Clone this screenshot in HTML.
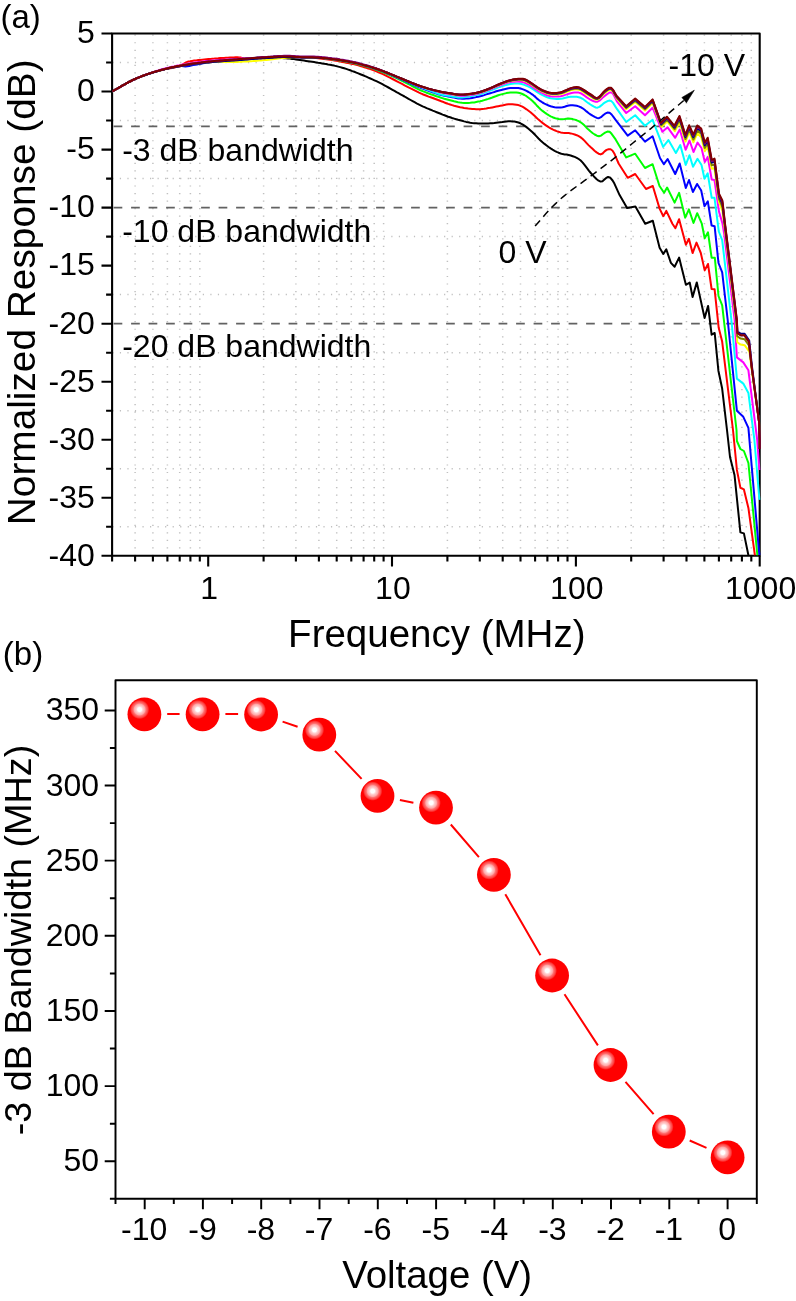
<!DOCTYPE html>
<html lang="en"><head><meta charset="utf-8"><title>Frequency response and bandwidth</title>
<style>html,body{margin:0;padding:0;background:#fff}svg{display:block}text{font-family:"Liberation Sans",Arial,Helvetica,sans-serif;fill:#000}.t{font-size:32px}.ttl{font-size:38.5px}.ax{stroke:#000;stroke-width:2.1;fill:none;stroke-linecap:butt;stroke-linejoin:round}.g{stroke:#c0c0c0;stroke-width:1.5;stroke-dasharray:1.2 6.34;fill:none}.axb{stroke-width:1.95}.d{stroke:#626262;stroke-width:1.75;stroke-dasharray:8.7 8.8;fill:none}.c{fill:none;stroke-width:2;stroke-linejoin:round;stroke-linecap:butt}</style></head><body>
<svg width="796" height="1301" viewBox="0 0 796 1301">
<rect width="796" height="1301" fill="#fff"/>
<defs><radialGradient id="ball" cx="0.358" cy="0.358" r="0.285" fx="0.358" fy="0.358"><stop offset="0" stop-color="#ffffff"/><stop offset="0.2" stop-color="#ffffff"/><stop offset="0.34" stop-color="#ffd2d2"/><stop offset="0.56" stop-color="#ffa8a8"/><stop offset="0.66" stop-color="#ff7474"/><stop offset="0.86" stop-color="#ff4040"/><stop offset="1" stop-color="#ff0000"/></radialGradient>
<clipPath id="clipA"><rect x="112.1" y="33.5" width="648.7" height="522.3"/></clipPath></defs>
<g id="panel-a">
<path class="g" d="M135.1,34.6 V555.8 M152.9,34.6 V555.8 M167.4,34.6 V555.8 M179.7,34.6 V555.8 M190.4,34.6 V555.8 M199.8,34.6 V555.8 M263.6,34.6 V555.8 M295.9,34.6 V555.8 M318.9,34.6 V555.8 M336.7,34.6 V555.8 M351.3,34.6 V555.8 M363.6,34.6 V555.8 M374.2,34.6 V555.8 M383.6,34.6 V555.8 M447.4,34.6 V555.8 M479.8,34.6 V555.8 M502.7,34.6 V555.8 M520.5,34.6 V555.8 M535.1,34.6 V555.8 M547.4,34.6 V555.8 M558.1,34.6 V555.8 M567.5,34.6 V555.8 M631.2,34.6 V555.8 M663.6,34.6 V555.8 M686.5,34.6 V555.8 M704.4,34.6 V555.8 M718.9,34.6 V555.8 M731.2,34.6 V555.8 M741.9,34.6 V555.8 M751.3,34.6 V555.8 M112.3,62.5 H759.7 M112.3,120.5 H759.7 M112.3,178.6 H759.7 M112.3,236.6 H759.7 M112.3,294.6 H759.7 M112.3,352.7 H759.7 M112.3,410.7 H759.7 M112.3,468.8 H759.7 M112.3,526.8 H759.7"/>
<path class="d" d="M113.6,126.4 H759.7"/>
<path class="d" d="M113.6,207.6 H759.7"/>
<path class="d" d="M113.6,323.7 H759.7"/>
<path class="ax" d="M112.1,33.5 H759.7 V555.8 H112.1 Z"/>
<g clip-path="url(#clipA)">
<polyline class="c" stroke="#000000" points="112.4,91.3 114.5,90.2 116.5,89.0 118.6,87.8 120.7,86.6 122.7,85.4 124.8,84.3 126.8,83.1 128.9,82.0 131.0,81.0 133.0,79.9 135.1,79.0 137.0,78.2 139.0,77.4 140.9,76.6 142.9,75.8 144.8,75.1 146.7,74.4 148.7,73.8 150.6,73.1 152.5,72.5 154.5,71.9 156.4,71.3 158.4,70.8 160.3,70.2 162.2,69.7 164.2,69.2 166.1,68.7 168.0,68.2 170.0,67.7 171.9,67.3 173.8,66.9 175.7,66.5 177.7,66.1 179.6,65.8 181.5,65.4 183.5,65.0 185.4,64.7 187.3,64.4 189.3,64.1 191.2,63.8 193.1,63.5 195.1,63.2 197.0,62.9 198.9,62.7 200.8,62.5 202.8,62.2 204.7,62.0 206.6,61.8 208.6,61.6 210.5,61.4 212.4,61.2 214.4,61.0 216.3,60.9 218.2,60.7 220.2,60.5 222.1,60.4 224.0,60.3 225.9,60.1 227.9,60.0 229.8,59.9 231.7,59.8 233.7,59.6 235.6,59.5 237.5,59.4 239.5,59.2 241.4,59.1 243.4,58.9 245.3,58.8 247.2,58.7 249.2,58.5 251.1,58.4 253.0,58.3 255.0,58.2 256.9,58.1 258.9,58.1 260.8,58.0 262.7,58.0 264.7,57.9 266.6,57.9 268.5,57.9 270.5,57.9 272.4,57.9 274.3,57.9 276.2,58.0 278.2,58.0 280.1,58.1 282.0,58.1 284.0,58.2 285.9,58.3 287.9,58.4 289.9,58.6 291.9,58.9 294.0,59.1 296.0,59.4 298.0,59.7 300.0,60.0 302.0,60.3 304.0,60.6 306.0,60.9 308.0,61.2 310.1,61.5 312.1,61.8 314.1,62.1 316.1,62.4 318.1,62.8 320.1,63.1 322.1,63.4 324.1,63.8 326.1,64.1 328.1,64.5 330.1,64.8 332.2,65.2 334.2,65.6 336.2,66.1 338.2,66.6 340.2,67.1 342.2,67.7 344.2,68.3 346.2,68.9 348.2,69.6 350.2,70.3 352.3,71.1 354.3,71.8 356.3,72.6 358.3,73.4 360.3,74.2 362.3,75.0 364.3,75.8 366.3,76.7 368.3,77.6 370.4,78.5 372.4,79.4 374.4,80.3 376.4,81.2 378.4,82.2 380.4,83.2 382.4,84.2 384.4,85.3 386.4,86.4 388.4,87.5 390.4,88.6 392.5,89.8 394.5,90.9 396.5,92.1 398.5,93.2 400.5,94.3 402.5,95.4 404.5,96.5 406.5,97.7 408.5,98.8 410.6,100.0 412.6,101.1 414.6,102.2 416.6,103.3 418.6,104.3 420.6,105.3 422.6,106.3 424.6,107.2 426.6,108.1 428.6,108.9 430.6,109.7 432.7,110.6 434.7,111.4 436.7,112.2 438.7,113.0 440.7,113.8 442.6,114.6 444.5,115.3 446.3,116.0 448.2,116.7 450.1,117.3 452.1,118.0 454.1,118.6 456.1,119.2 458.1,119.8 460.1,120.3 462.1,120.8 464.1,121.4 466.2,121.9 468.2,122.3 470.2,122.7 472.2,123.0 474.2,123.2 476.2,123.3 478.2,123.4 480.2,123.5 482.2,123.5 484.2,123.5 486.3,123.5 488.3,123.4 490.3,123.3 492.3,123.2 494.3,123.0 496.3,122.7 498.3,122.5 500.3,122.3 502.3,122.1 504.3,121.8 506.4,121.5 508.4,121.3 510.4,121.3 512.4,121.4 514.4,121.6 516.4,122.0 518.4,122.5 520.4,123.3 522.4,124.3 524.4,125.6 526.5,127.1 528.5,128.7 530.5,130.4 532.5,132.2 534.5,134.3 536.5,136.4 538.5,138.5 540.5,140.4 542.5,142.2 544.5,143.9 546.6,145.5 548.6,147.0 550.6,148.4 552.6,149.7 554.6,150.8 556.6,151.8 558.6,152.7 560.6,153.5 562.6,154.1 564.6,154.4 566.7,154.6 568.7,155.0 570.7,155.5 572.7,156.2 574.7,156.9 576.7,157.8 578.7,159.0 580.7,160.5 582.7,162.6 584.7,165.1 586.8,167.9 588.8,170.6 590.8,173.0 592.8,175.2 594.7,177.3 596.7,179.2 598.6,180.7 600.6,181.6 602.5,181.2 604.4,179.6 606.2,177.9 608.1,177.0 610.4,177.8 612.6,180.5 614.4,183.6 616.1,187.4 617.9,191.3 619.6,195.1 627.1,207.9 635.4,206.4 645.2,223.7 652.8,220.7 659.6,247.8 663.3,253.9 666.3,249.4 670.9,262.9 674.6,266.7 679.1,257.6 685.9,284.8 689.7,282.5 692.6,297.0 696.8,282.4 704.6,318.0 708.1,305.9 711.6,334.7 714.7,333.0 718.4,370.7 722.1,388.2 727.0,430.0 730.0,457.0 734.5,474.9 740.4,532.4 743.9,533.4 748.4,555.3"/>
<polyline class="c" stroke="#ff0000" points="112.4,91.3 114.5,90.2 116.5,89.0 118.6,87.8 120.7,86.6 122.7,85.4 124.8,84.3 126.8,83.1 128.9,82.0 131.0,81.0 133.0,79.9 135.1,79.0 137.0,78.2 139.0,77.4 140.9,76.6 142.9,75.8 144.8,75.1 146.7,74.4 148.7,73.8 150.6,73.1 152.5,72.5 154.5,71.9 156.4,71.3 158.4,70.8 160.3,70.2 162.3,69.7 164.2,69.2 166.2,68.9 168.2,68.5 170.2,68.2 172.1,67.9 174.1,67.5 176.1,67.1 178.0,66.7 180.0,66.2 182.0,65.0 184.0,63.6 186.0,62.4 188.0,61.6 190.0,61.3 192.1,60.9 194.1,60.6 196.2,60.4 198.2,60.1 200.3,59.9 202.3,59.7 204.4,59.5 206.4,59.3 208.5,59.1 210.5,58.9 212.4,58.7 214.4,58.6 216.3,58.4 218.2,58.3 220.2,58.1 222.1,58.0 224.0,57.9 225.9,57.8 227.9,57.7 229.8,57.6 231.7,57.5 233.7,57.4 235.6,57.3 237.4,57.3 239.2,57.4 241.0,57.6 243.5,58.2 246.0,58.6 248.1,58.6 250.2,58.4 252.3,58.3 254.5,58.1 256.6,57.9 258.7,57.7 260.8,57.6 262.7,57.5 264.7,57.4 266.6,57.3 268.5,57.2 270.5,57.1 272.4,57.0 274.3,56.9 276.2,56.8 278.2,56.8 280.1,56.7 282.0,56.7 284.0,56.6 285.9,56.6 287.9,56.6 289.9,56.7 291.9,56.8 294.0,56.9 296.0,57.0 298.0,57.2 300.0,57.3 302.0,57.4 304.0,57.5 306.0,57.6 308.0,57.7 310.1,57.8 312.1,57.9 314.1,58.0 316.1,58.1 318.1,58.3 320.1,58.5 322.1,58.7 324.1,59.0 326.1,59.2 328.1,59.5 330.1,59.8 332.2,60.1 334.2,60.4 336.2,60.8 338.2,61.1 340.2,61.5 342.2,61.9 344.2,62.3 346.2,62.7 348.2,63.1 350.2,63.5 352.3,63.9 354.3,64.4 356.3,64.9 358.3,65.4 360.3,66.0 362.3,66.6 364.3,67.2 366.3,67.8 368.3,68.5 370.4,69.1 372.4,69.8 374.4,70.6 376.4,71.4 378.4,72.2 380.4,73.0 382.4,73.9 384.4,74.8 386.4,75.8 388.4,76.9 390.4,77.9 392.5,79.0 394.5,80.0 396.5,81.1 398.5,82.2 400.5,83.2 402.5,84.2 404.5,85.3 406.5,86.3 408.5,87.4 410.6,88.4 412.6,89.4 414.6,90.4 416.6,91.4 418.6,92.4 420.6,93.3 422.6,94.2 424.6,95.0 426.6,95.8 428.6,96.6 430.6,97.3 432.7,98.0 434.7,98.8 436.7,99.5 438.7,100.2 440.7,101.0 442.6,101.7 444.5,102.5 446.3,103.2 448.2,103.9 450.1,104.5 452.1,105.1 454.1,105.7 456.1,106.2 458.1,106.7 460.1,107.2 462.1,107.6 464.1,108.0 466.2,108.3 468.2,108.6 470.2,108.8 472.2,109.0 474.2,109.1 476.2,109.2 478.2,109.3 480.2,109.2 482.2,109.0 484.2,108.8 486.3,108.5 488.3,108.1 490.3,107.8 492.3,107.4 494.3,107.0 496.3,106.6 498.3,106.2 500.3,105.8 502.3,105.4 504.3,105.0 506.4,104.6 508.4,104.3 510.4,104.2 512.4,104.2 514.4,104.4 516.4,104.7 518.4,105.1 520.4,105.8 522.4,106.7 524.4,107.9 526.5,109.3 528.5,110.8 530.5,112.3 532.5,114.0 534.5,115.8 536.5,117.7 538.5,119.6 540.5,121.3 542.5,122.9 544.5,124.4 546.6,125.8 548.6,127.1 550.6,128.3 552.6,129.4 554.6,130.3 556.6,131.1 558.6,131.8 560.6,132.4 562.6,132.8 564.6,132.9 566.7,132.9 568.7,133.1 570.7,133.4 572.7,133.9 574.7,134.5 576.7,135.2 578.7,136.2 580.7,137.4 582.7,139.0 584.6,140.9 586.6,143.1 588.5,145.1 590.5,147.0 592.5,148.8 594.5,150.7 596.6,152.4 598.6,153.7 600.6,154.4 602.6,153.5 604.6,151.4 606.6,149.9 608.6,149.3 610.6,149.3 612.6,150.7 614.6,154.1 616.6,158.8 618.6,163.5 627.7,177.8 635.2,174.0 646.0,189.0 652.8,186.0 659.6,208.6 663.3,216.2 666.3,210.9 672.4,223.7 675.4,228.2 679.1,219.2 685.9,244.8 688.9,238.8 692.6,253.1 696.5,242.6 700.8,253.0 704.7,270.4 708.0,264.0 711.6,289.0 714.6,289.3 718.7,327.8 722.1,341.2 733.0,430.0 736.9,469.9 740.4,487.9 743.9,489.4 748.4,507.9 754.9,555.3"/>
<polyline class="c" stroke="#00ff00" points="112.4,91.3 114.5,90.2 116.5,89.0 118.6,87.8 120.7,86.6 122.7,85.4 124.8,84.3 126.8,83.1 128.9,82.0 131.0,81.0 133.0,79.9 135.1,79.0 137.0,78.2 139.0,77.4 140.9,76.6 142.9,75.8 144.8,75.1 146.7,74.4 148.7,73.8 150.6,73.1 152.5,72.5 154.5,71.9 156.4,71.3 158.4,70.8 160.3,70.2 162.2,69.7 164.2,69.2 166.1,68.7 168.0,68.2 170.0,67.7 171.9,67.3 173.8,66.9 175.7,66.5 177.7,66.1 179.6,65.8 181.5,65.4 183.5,65.0 185.4,64.7 187.3,64.4 189.3,64.1 191.2,63.8 193.1,63.5 195.1,63.2 197.0,63.0 198.9,62.7 200.8,62.5 202.8,62.2 204.7,62.0 206.6,61.8 208.6,61.6 210.5,61.4 212.4,61.2 214.4,61.0 216.3,60.8 218.2,60.7 220.2,60.5 222.1,60.4 224.0,60.2 225.9,60.1 227.9,60.0 229.8,59.8 231.7,59.7 233.7,59.5 235.6,59.4 237.5,59.3 239.5,59.1 241.4,59.0 243.4,58.8 245.3,58.7 247.2,58.5 249.2,58.4 251.1,58.2 253.0,58.1 255.0,58.0 256.9,57.8 258.9,57.7 260.8,57.6 262.7,57.5 264.7,57.4 266.6,57.2 268.5,57.1 270.5,57.0 272.4,56.9 274.3,56.8 276.2,56.7 278.2,56.6 280.1,56.5 282.0,56.5 284.0,56.4 285.9,56.4 287.9,56.4 289.9,56.5 291.9,56.6 294.0,56.7 296.0,56.9 298.0,57.0 300.0,57.1 302.0,57.2 304.0,57.2 306.0,57.3 308.0,57.3 310.1,57.4 312.1,57.5 314.1,57.5 316.1,57.6 318.1,57.7 320.1,57.9 322.1,58.1 324.1,58.3 326.1,58.5 328.1,58.7 330.1,59.0 332.2,59.3 334.2,59.5 336.2,59.8 338.2,60.2 340.2,60.5 342.2,60.9 344.2,61.2 346.2,61.6 348.2,62.0 350.2,62.4 352.3,62.8 354.3,63.3 356.3,63.8 358.3,64.3 360.3,64.8 362.3,65.3 364.3,65.9 366.3,66.5 368.3,67.1 370.4,67.7 372.4,68.4 374.4,69.0 376.4,69.7 378.4,70.5 380.4,71.2 382.4,72.0 384.4,72.8 386.4,73.6 388.4,74.5 390.4,75.4 392.5,76.3 394.5,77.2 396.5,78.1 398.5,79.0 400.5,80.0 402.5,81.0 404.5,82.0 406.5,83.1 408.5,84.2 410.6,85.2 412.6,86.3 414.6,87.4 416.6,88.4 418.6,89.4 420.6,90.3 422.6,91.1 424.6,91.9 426.5,92.7 428.5,93.4 430.5,94.2 432.5,94.8 434.5,95.5 436.4,96.2 438.4,96.8 440.4,97.5 442.3,98.1 444.3,98.7 446.2,99.2 448.2,99.7 450.1,100.2 452.1,100.7 454.1,101.3 456.1,101.8 458.1,102.3 460.1,102.6 462.1,102.8 464.1,102.9 466.2,103.0 468.2,102.9 470.2,102.8 472.2,102.6 474.2,102.4 476.2,102.0 478.2,101.6 480.2,101.2 482.2,100.7 484.2,100.1 486.3,99.5 488.3,98.9 490.3,98.2 492.3,97.5 494.3,96.7 496.3,96.0 498.3,95.2 500.3,94.6 502.3,94.1 504.3,93.6 506.4,93.1 508.4,92.8 510.4,92.6 512.4,92.5 514.4,92.4 516.4,92.4 518.4,92.7 520.4,93.2 522.4,94.0 524.4,95.0 526.5,96.2 528.5,97.7 530.5,99.2 532.5,101.0 534.5,103.0 536.5,105.2 538.5,107.3 540.5,109.2 542.5,110.9 544.5,112.4 546.6,113.9 548.6,115.2 550.6,116.3 552.6,117.2 554.6,118.0 556.6,118.6 558.6,119.0 560.6,119.3 562.6,119.3 564.6,119.1 566.7,118.8 568.7,118.6 570.7,118.7 572.7,119.1 574.7,119.6 576.7,120.3 578.7,121.2 580.7,122.3 582.6,123.8 584.6,125.6 586.5,127.7 588.5,129.6 590.4,131.3 592.5,133.0 594.7,134.5 596.9,135.7 599.0,136.3 601.0,135.6 603.1,134.0 605.1,132.6 607.4,131.6 609.6,131.8 611.6,133.8 613.6,136.6 615.6,139.4 626.2,157.4 635.2,153.7 645.0,168.0 652.6,164.2 659.5,186.0 664.1,192.8 667.1,187.5 674.6,202.6 679.1,192.8 685.2,217.7 688.9,209.4 693.5,223.0 697.2,213.2 701.8,223.7 704.7,238.3 708.0,232.3 711.6,257.7 714.8,257.7 718.5,296.0 722.2,305.4 736.5,430.0 736.9,441.0 740.4,449.0 743.9,451.0 748.4,463.0 757.4,555.3"/>
<polyline class="c" stroke="#0000ff" points="112.4,91.3 114.5,90.2 116.5,89.0 118.6,87.8 120.7,86.6 122.7,85.4 124.8,84.3 126.8,83.1 128.9,82.0 131.0,81.0 133.0,79.9 135.1,79.0 137.0,78.2 139.0,77.4 140.9,76.6 142.9,75.9 144.8,75.1 146.7,74.5 148.7,73.8 150.6,73.2 152.5,72.5 154.5,71.9 156.4,71.3 158.4,70.8 160.3,70.2 162.3,69.6 164.2,69.1 166.2,68.6 168.2,68.2 170.2,67.8 172.1,67.4 174.1,67.0 176.1,66.6 178.0,66.3 180.0,66.0 181.8,66.0 183.6,66.3 185.4,66.4 187.3,66.2 189.3,65.9 191.2,65.5 193.1,65.1 195.1,64.8 197.0,64.4 198.9,64.0 200.9,63.7 202.8,63.3 204.7,62.9 206.6,62.6 208.6,62.3 210.5,62.0 212.4,61.8 214.4,61.5 216.3,61.3 218.2,61.1 220.2,61.0 222.1,60.8 224.0,60.6 225.9,60.4 227.9,60.3 229.8,60.1 231.7,59.9 233.7,59.8 235.6,59.6 237.5,59.4 239.5,59.3 241.4,59.1 243.4,58.9 245.3,58.8 247.2,58.6 249.2,58.4 251.1,58.3 253.0,58.1 255.0,58.0 256.9,57.9 258.9,57.7 260.8,57.6 262.7,57.5 264.7,57.4 266.6,57.2 268.5,57.1 270.5,57.0 272.4,56.9 274.3,56.8 276.2,56.7 278.2,56.6 280.1,56.5 282.0,56.5 284.0,56.4 285.9,56.4 287.9,56.4 289.9,56.5 291.9,56.6 294.0,56.7 296.0,56.9 298.0,57.0 300.0,57.1 302.0,57.2 304.0,57.2 306.0,57.2 308.0,57.3 310.1,57.3 312.1,57.3 314.1,57.4 316.1,57.5 318.1,57.6 320.1,57.7 322.1,57.9 324.1,58.0 326.1,58.2 328.1,58.4 330.1,58.7 332.2,58.9 334.2,59.2 336.2,59.5 338.2,59.8 340.2,60.1 342.2,60.4 344.2,60.8 346.2,61.2 348.2,61.5 350.2,62.0 352.3,62.4 354.3,62.8 356.3,63.3 358.3,63.8 360.3,64.3 362.3,64.8 364.3,65.4 366.3,66.0 368.3,66.6 370.4,67.2 372.4,67.8 374.4,68.5 376.4,69.2 378.4,69.9 380.4,70.6 382.4,71.4 384.4,72.1 386.4,73.0 388.4,73.8 390.4,74.6 392.5,75.5 394.5,76.4 396.5,77.3 398.5,78.1 400.5,79.0 402.5,79.9 404.5,80.8 406.5,81.7 408.5,82.6 410.6,83.5 412.6,84.4 414.6,85.3 416.6,86.1 418.6,87.0 420.6,87.8 422.6,88.6 424.6,89.3 426.5,90.1 428.5,90.8 430.5,91.5 432.5,92.2 434.5,92.9 436.4,93.5 438.4,94.2 440.4,94.8 442.3,95.3 444.3,95.8 446.2,96.1 448.2,96.4 450.1,96.8 452.1,97.2 454.1,97.6 456.1,98.1 458.1,98.4 460.1,98.6 462.1,98.7 464.1,98.7 466.2,98.6 468.2,98.4 470.2,98.2 472.2,97.9 474.2,97.6 476.2,97.1 478.2,96.7 480.2,96.2 482.2,95.7 484.2,95.1 486.3,94.4 488.3,93.8 490.3,93.2 492.3,92.6 494.3,92.0 496.3,91.3 498.3,90.7 500.3,90.2 502.3,89.7 504.3,89.2 506.4,88.7 508.4,88.3 510.4,88.1 512.4,88.0 514.4,87.9 516.4,87.9 518.4,88.1 520.4,88.5 522.4,89.1 524.4,89.9 526.5,90.9 528.5,92.0 530.5,93.2 532.5,94.6 534.5,96.3 536.5,98.1 538.5,99.7 540.5,101.2 542.5,102.5 544.5,103.6 546.6,104.6 548.6,105.5 550.6,106.2 552.6,106.8 554.6,107.2 556.6,107.5 558.6,107.6 560.6,107.6 562.6,107.3 564.6,106.7 566.7,106.0 568.7,105.5 570.7,105.2 572.7,105.2 574.7,105.4 576.7,105.8 578.7,106.4 580.7,107.2 582.6,108.3 584.6,109.8 586.5,111.4 588.5,113.0 590.4,114.3 592.5,115.7 594.7,116.9 596.9,117.9 599.0,118.2 601.0,117.2 603.1,115.3 605.1,113.7 607.4,112.6 609.6,112.7 611.6,114.5 613.6,117.2 615.6,119.8 627.7,135.6 635.2,130.3 645.0,141.6 652.6,136.3 660.0,158.0 663.9,164.2 667.6,159.0 675.2,174.0 679.7,163.5 685.8,188.0 689.0,180.0 692.9,192.0 697.1,184.0 701.2,190.5 704.5,206.2 707.8,201.3 711.6,225.5 714.6,226.2 718.5,263.0 722.2,272.3 727.7,320.0 736.9,410.8 743.3,416.8 748.4,427.9 758.9,549.8 759.5,555.0"/>
<polyline class="c" stroke="#00ffff" points="112.4,91.3 114.5,90.2 116.5,89.0 118.6,87.8 120.7,86.6 122.7,85.4 124.8,84.3 126.8,83.1 128.9,82.0 131.0,81.0 133.0,79.9 135.1,79.0 137.0,78.2 139.0,77.4 140.9,76.6 142.9,75.8 144.8,75.1 146.7,74.4 148.7,73.8 150.6,73.1 152.5,72.5 154.5,71.9 156.4,71.3 158.4,70.8 160.3,70.2 162.2,69.7 164.2,69.2 166.1,68.7 168.0,68.2 170.0,67.7 171.9,67.3 173.8,66.9 175.7,66.5 177.7,66.1 179.6,65.8 181.5,65.4 183.5,65.0 185.4,64.7 187.3,64.4 189.3,64.1 191.2,63.8 193.1,63.5 195.1,63.2 197.0,63.0 198.9,62.7 200.8,62.5 202.8,62.2 204.7,62.0 206.6,61.8 208.6,61.6 210.5,61.4 212.4,61.2 214.4,61.0 216.3,60.8 218.2,60.7 220.2,60.5 222.1,60.4 224.0,60.2 225.9,60.1 227.9,60.0 229.8,59.8 231.7,59.7 233.7,59.5 235.6,59.4 237.5,59.3 239.5,59.1 241.4,59.0 243.4,58.8 245.3,58.7 247.2,58.5 249.2,58.4 251.1,58.2 253.0,58.1 255.0,58.0 256.9,57.8 258.9,57.7 260.8,57.6 262.7,57.5 264.7,57.4 266.6,57.2 268.5,57.1 270.5,57.0 272.4,56.9 274.3,56.8 276.2,56.7 278.2,56.6 280.1,56.5 282.0,56.5 284.0,56.4 285.9,56.4 287.9,56.4 289.9,56.5 291.9,56.6 294.0,56.7 296.0,56.9 298.0,57.0 300.0,57.1 302.0,57.2 304.0,57.2 306.0,57.2 308.0,57.3 310.1,57.3 312.1,57.3 314.1,57.4 316.1,57.5 318.1,57.6 320.1,57.7 322.1,57.9 324.1,58.0 326.1,58.2 328.1,58.5 330.1,58.7 332.2,58.9 334.2,59.2 336.2,59.5 338.2,59.8 340.2,60.1 342.2,60.4 344.2,60.8 346.2,61.1 348.2,61.5 350.2,61.9 352.3,62.3 354.3,62.7 356.3,63.1 358.3,63.6 360.3,64.1 362.3,64.6 364.3,65.2 366.3,65.7 368.3,66.3 370.4,66.9 372.4,67.6 374.4,68.2 376.4,68.9 378.4,69.6 380.4,70.3 382.4,71.0 384.4,71.8 386.4,72.6 388.4,73.4 390.4,74.3 392.5,75.1 394.5,76.0 396.5,76.8 398.5,77.7 400.5,78.5 402.5,79.3 404.5,80.2 406.5,81.1 408.5,81.9 410.6,82.8 412.6,83.7 414.6,84.5 416.6,85.4 418.6,86.2 420.6,87.0 422.6,87.8 424.6,88.6 426.5,89.3 428.5,90.1 430.5,90.9 432.5,91.6 434.5,92.3 436.4,93.0 438.4,93.7 440.4,94.3 442.3,94.8 444.2,95.2 446.2,95.5 448.1,95.7 450.0,96.0 452.0,96.4 454.0,96.8 456.1,97.1 458.1,97.4 460.1,97.5 462.1,97.4 464.1,97.2 466.2,96.9 468.2,96.6 470.2,96.2 472.2,95.9 474.2,95.5 476.2,95.1 478.2,94.7 480.2,94.2 482.2,93.6 484.2,92.9 486.3,92.1 488.3,91.4 490.3,90.6 492.3,89.8 494.3,89.0 496.3,88.2 498.3,87.4 500.3,86.7 502.3,86.1 504.3,85.5 506.4,84.9 508.4,84.5 510.4,84.1 512.4,83.8 514.4,83.6 516.4,83.4 518.4,83.5 520.4,83.7 522.4,84.2 524.4,84.9 526.5,85.7 528.5,86.7 530.5,87.7 532.5,88.9 534.5,90.2 536.5,91.7 538.5,93.0 540.5,94.2 542.5,95.2 544.5,96.1 546.6,97.0 548.6,97.7 550.6,98.2 552.6,98.6 554.6,98.8 556.6,98.9 558.6,98.9 560.6,98.8 562.6,98.5 564.6,98.0 566.7,97.5 568.7,97.0 570.7,96.8 572.7,96.7 574.7,96.7 576.7,96.8 578.7,97.2 580.7,97.8 582.6,98.8 584.6,100.2 586.5,101.7 588.5,103.2 590.4,104.5 592.2,105.6 594.0,106.7 595.7,107.5 597.5,107.7 599.4,106.9 601.3,105.4 603.2,103.7 605.1,102.4 607.1,101.3 609.1,100.6 611.1,100.9 613.1,102.9 615.1,106.1 617.1,109.2 626.2,122.0 635.2,115.2 645.0,125.8 652.6,119.8 663.1,146.9 668.4,140.1 675.9,152.9 680.3,145.0 685.7,164.9 689.5,155.2 693.0,166.8 697.5,158.8 701.5,165.0 704.5,178.8 707.7,173.3 711.7,197.8 714.5,197.8 718.8,231.5 722.2,240.1 731.4,320.0 736.9,378.6 743.3,383.6 748.4,392.9 754.4,440.0 759.4,499.9"/>
<polyline class="c" stroke="#ff00ff" points="112.4,91.3 114.5,90.2 116.5,89.0 118.6,87.8 120.7,86.6 122.7,85.5 124.8,84.3 126.8,83.2 128.9,82.0 131.0,81.0 133.0,80.0 135.1,79.0 137.0,78.1 139.0,77.3 140.9,76.5 142.9,75.8 144.8,75.0 146.7,74.3 148.7,73.6 150.6,72.9 152.5,72.3 154.5,71.6 156.4,71.0 158.4,70.4 160.3,69.8 162.2,69.3 164.2,68.7 166.1,68.2 168.0,67.7 170.0,67.3 171.9,66.8 173.8,66.4 175.7,65.9 177.7,65.5 179.6,65.2 181.5,64.8 183.5,64.4 185.4,64.1 187.3,63.7 189.3,63.4 191.2,63.1 193.1,62.8 195.1,62.5 197.0,62.3 198.9,62.0 200.8,61.8 202.8,61.6 204.7,61.3 206.6,61.1 208.6,60.9 210.5,60.7 212.4,60.5 214.4,60.4 216.3,60.2 218.2,60.1 220.2,59.9 222.1,59.8 224.0,59.7 225.9,59.6 227.9,59.4 229.8,59.3 231.7,59.2 233.7,59.1 235.6,59.0 237.5,58.9 239.5,58.7 241.4,58.6 243.4,58.5 245.3,58.4 247.2,58.3 249.2,58.2 251.1,58.1 253.0,58.0 255.0,57.9 256.9,57.8 258.9,57.7 260.8,57.6 262.7,57.5 264.7,57.4 266.6,57.3 268.5,57.2 270.5,57.0 272.4,56.9 274.3,56.8 276.2,56.7 278.2,56.6 280.1,56.6 282.0,56.5 284.0,56.4 285.9,56.4 287.9,56.4 289.9,56.5 291.9,56.6 294.0,56.7 296.0,56.9 298.0,57.0 300.0,57.1 302.0,57.2 304.0,57.2 306.0,57.2 308.0,57.3 310.1,57.3 312.1,57.3 314.1,57.4 316.1,57.5 318.1,57.6 320.1,57.7 322.1,57.9 324.1,58.0 326.1,58.2 328.1,58.5 330.1,58.7 332.2,58.9 334.2,59.2 336.2,59.5 338.2,59.8 340.2,60.1 342.2,60.4 344.2,60.8 346.2,61.1 348.2,61.5 350.2,61.9 352.3,62.3 354.3,62.7 356.3,63.1 358.3,63.6 360.3,64.1 362.3,64.6 364.3,65.2 366.3,65.7 368.3,66.3 370.4,66.9 372.4,67.5 374.4,68.2 376.4,68.8 378.4,69.5 380.4,70.2 382.4,70.9 384.4,71.7 386.4,72.5 388.4,73.3 390.4,74.1 392.5,75.0 394.5,75.8 396.5,76.6 398.5,77.5 400.5,78.3 402.5,79.1 404.5,80.0 406.5,80.8 408.5,81.7 410.6,82.5 412.6,83.4 414.6,84.2 416.6,85.0 418.6,85.8 420.6,86.5 422.5,87.2 424.5,87.8 426.4,88.4 428.4,89.0 430.3,89.6 432.2,90.2 434.2,90.7 436.1,91.3 438.1,91.8 440.0,92.3 442.0,92.8 444.0,93.2 446.1,93.5 448.1,93.9 450.1,94.2 452.1,94.6 454.1,95.0 456.1,95.3 458.1,95.6 460.1,95.8 462.1,95.8 464.1,95.7 466.2,95.5 468.2,95.3 470.2,95.0 472.2,94.7 474.2,94.4 476.2,94.0 478.2,93.5 480.2,93.0 482.2,92.4 484.2,91.7 486.3,90.9 488.3,90.1 490.3,89.3 492.3,88.5 494.3,87.6 496.3,86.8 498.3,86.0 500.3,85.2 502.3,84.5 504.3,83.8 506.4,83.1 508.4,82.5 510.4,82.1 512.4,81.8 514.4,81.7 516.4,81.6 518.4,81.6 520.4,81.7 522.9,82.1 525.4,83.0 527.1,83.8 528.8,84.7 530.5,85.7 532.5,87.0 534.5,88.4 536.5,89.7 538.5,91.1 540.5,92.2 542.5,93.2 544.5,94.2 546.6,95.0 548.6,95.7 550.6,96.2 552.6,96.5 554.6,96.6 556.6,96.6 558.6,96.5 560.6,96.2 562.6,95.8 564.6,95.1 566.7,94.4 568.7,93.8 570.7,93.2 572.7,92.8 574.7,92.6 576.7,92.5 578.7,92.6 580.7,93.2 582.6,94.4 584.6,95.7 586.5,97.1 588.5,98.5 590.4,99.6 592.2,100.5 594.0,101.3 595.7,101.8 597.5,101.7 599.4,100.7 601.3,99.0 603.2,97.1 605.1,95.6 607.4,93.9 609.6,92.5 611.9,92.6 613.6,94.7 615.4,98.2 617.1,101.7 626.2,113.0 635.2,106.2 645.0,115.2 652.6,107.7 662.4,131.8 667.6,127.3 675.2,137.8 679.8,129.5 685.6,149.8 689.5,140.5 693.5,152.0 697.5,142.6 701.5,148.0 704.8,162.0 707.7,156.9 711.7,179.5 714.5,180.1 719.0,211.8 722.4,223.1 724.2,234.1 734.6,320.0 736.9,357.4 743.3,362.4 748.4,370.3 757.2,440.0 759.4,470.0"/>
<polyline class="c" stroke="#ffff00" points="112.4,91.3 114.5,90.2 116.5,89.0 118.6,87.8 120.7,86.6 122.7,85.4 124.8,84.3 126.8,83.1 128.9,82.0 131.0,81.0 133.0,79.9 135.1,79.0 137.0,78.2 139.0,77.4 140.9,76.6 142.9,75.8 144.8,75.1 146.7,74.4 148.7,73.8 150.6,73.1 152.5,72.5 154.5,71.9 156.4,71.3 158.4,70.8 160.3,70.2 162.2,69.7 164.2,69.1 166.1,68.7 168.0,68.2 170.0,67.7 171.9,67.3 173.8,66.9 175.7,66.5 177.7,66.1 179.6,65.7 181.5,65.4 183.5,65.0 185.4,64.7 187.3,64.4 189.3,64.1 191.2,63.8 193.1,63.6 195.1,63.3 197.0,63.1 198.9,62.9 200.8,62.7 202.8,62.5 204.7,62.3 206.6,62.2 208.6,62.1 210.5,61.9 212.4,61.9 214.4,61.8 216.3,61.8 218.2,61.8 220.2,61.8 222.1,61.8 224.0,61.9 225.9,61.9 227.9,62.0 229.8,62.0 231.7,62.0 233.7,62.0 235.6,61.9 237.5,61.9 239.5,61.8 241.4,61.7 243.4,61.6 245.3,61.5 247.2,61.4 249.2,61.3 251.1,61.2 253.0,61.1 255.0,60.9 256.9,60.8 258.9,60.6 260.8,60.5 262.7,60.3 264.7,60.1 266.6,59.9 268.5,59.7 270.5,59.5 272.4,59.2 274.3,59.0 276.2,58.8 278.2,58.5 280.1,58.3 282.0,58.1 284.0,57.9 285.9,57.7 287.9,57.6 289.9,57.4 291.9,57.3 294.0,57.2 296.0,57.2 298.0,57.1 300.0,57.1 302.0,57.1 304.0,57.1 306.0,57.1 308.0,57.2 310.1,57.2 312.1,57.3 314.1,57.3 316.1,57.4 318.1,57.6 320.1,57.7 322.1,57.9 324.1,58.0 326.1,58.2 328.1,58.5 330.1,58.7 332.2,58.9 334.2,59.2 336.2,59.5 338.2,59.8 340.2,60.1 342.2,60.4 344.2,60.8 346.2,61.1 348.2,61.5 350.2,61.9 352.3,62.3 354.3,62.7 356.3,63.1 358.3,63.6 360.3,64.1 362.3,64.6 364.3,65.2 366.3,65.7 368.3,66.3 370.4,66.9 372.4,67.5 374.4,68.2 376.4,68.8 378.4,69.5 380.4,70.2 382.4,70.9 384.4,71.7 386.4,72.5 388.4,73.3 390.4,74.1 392.5,74.9 394.5,75.8 396.5,76.6 398.5,77.4 400.5,78.2 402.5,79.1 404.5,79.9 406.5,80.7 408.5,81.6 410.6,82.4 412.6,83.3 414.6,84.1 416.6,84.9 418.6,85.6 420.6,86.3 422.5,87.0 424.5,87.6 426.4,88.2 428.4,88.8 430.3,89.3 432.2,89.9 434.2,90.4 436.1,90.9 438.1,91.4 440.0,91.9 442.0,92.3 444.0,92.7 446.1,93.0 448.1,93.3 450.1,93.7 452.1,94.0 454.1,94.4 456.1,94.7 458.1,95.0 460.1,95.1 462.1,95.1 464.1,95.0 466.2,94.9 468.2,94.6 470.2,94.3 472.2,94.0 474.2,93.7 476.2,93.3 478.2,92.9 480.2,92.3 482.2,91.7 484.2,91.0 486.3,90.2 488.3,89.4 490.3,88.6 492.3,87.8 494.3,86.9 496.3,86.0 498.3,85.2 500.3,84.4 502.3,83.6 504.3,82.8 506.4,82.1 508.4,81.5 510.4,81.0 512.4,80.6 514.4,80.4 516.4,80.2 518.4,80.1 520.4,80.0 522.9,80.3 525.4,81.1 527.1,81.9 528.8,82.9 530.5,83.9 532.5,85.3 534.5,86.6 536.5,88.0 538.5,89.4 540.5,90.5 542.5,91.5 544.5,92.4 546.6,93.2 548.6,93.9 550.6,94.3 552.6,94.6 554.6,94.7 556.6,94.6 558.6,94.3 560.6,94.0 562.6,93.5 564.6,92.7 566.7,91.9 568.7,91.1 570.7,90.4 572.7,89.9 574.7,89.6 576.7,89.5 578.7,89.7 580.7,90.4 582.6,91.5 584.6,92.8 586.5,94.2 588.5,95.5 590.4,96.6 592.2,97.7 594.0,98.8 595.7,99.6 597.5,99.6 599.4,98.5 601.3,96.6 603.2,94.5 605.1,92.7 607.2,91.1 609.3,89.9 611.5,90.0 613.2,91.9 615.0,95.1 616.7,98.3 626.2,109.3 635.2,102.0 645.0,110.6 652.6,103.1 661.6,126.9 667.2,121.5 674.8,131.2 679.6,122.1 685.5,141.6 689.3,132.1 693.4,142.4 697.4,133.2 701.3,137.3 704.8,151.3 707.7,146.3 711.7,168.7 714.5,168.3 719.0,201.8 722.4,210.7 724.8,229.1 735.9,320.0 737.3,342.3 740.6,344.6 744.6,345.2 749.4,351.6 752.8,377.4 759.0,421.4 759.7,440.0 759.7,449.0"/>
<polyline class="c" stroke="#808000" points="112.4,91.3 114.5,90.2 116.5,89.0 118.6,87.8 120.7,86.6 122.7,85.4 124.8,84.3 126.8,83.1 128.9,82.0 131.0,80.9 133.0,79.9 135.1,79.0 137.0,78.2 139.0,77.4 140.9,76.6 142.9,75.9 144.8,75.2 146.7,74.5 148.7,73.8 150.6,73.2 152.5,72.6 154.5,72.0 156.4,71.5 158.4,70.9 160.3,70.4 162.2,69.9 164.2,69.4 166.1,68.9 168.0,68.5 170.0,68.1 171.9,67.7 173.8,67.3 175.7,66.9 177.7,66.6 179.6,66.2 181.5,65.9 183.5,65.6 185.4,65.2 187.3,64.9 189.3,64.6 191.2,64.4 193.1,64.1 195.1,63.9 197.0,63.6 198.9,63.4 200.8,63.2 202.8,63.0 204.7,62.8 206.6,62.6 208.6,62.4 210.5,62.2 212.4,62.0 214.4,61.8 216.3,61.6 218.2,61.5 220.2,61.3 222.1,61.2 224.0,61.0 225.9,60.9 227.9,60.8 229.8,60.6 231.7,60.5 233.7,60.3 235.6,60.2 237.5,60.0 239.5,59.9 241.4,59.7 243.4,59.6 245.3,59.4 247.2,59.2 249.2,59.1 251.1,58.9 253.0,58.8 255.0,58.6 256.9,58.5 258.9,58.3 260.8,58.2 262.7,58.0 264.7,57.9 266.6,57.8 268.5,57.6 270.5,57.5 272.4,57.3 274.3,57.2 276.2,57.1 278.2,57.0 280.1,56.9 282.0,56.8 284.0,56.7 285.9,56.6 287.9,56.6 289.9,56.6 291.9,56.7 294.0,56.8 296.0,56.9 298.0,57.0 300.0,57.1 302.0,57.2 304.0,57.2 306.0,57.2 308.0,57.3 310.1,57.3 312.1,57.3 314.1,57.4 316.1,57.5 318.1,57.6 320.1,57.7 322.1,57.9 324.1,58.0 326.1,58.2 328.1,58.5 330.1,58.7 332.2,58.9 334.2,59.2 336.2,59.5 338.2,59.8 340.2,60.1 342.2,60.4 344.2,60.8 346.2,61.1 348.2,61.5 350.2,61.9 352.3,62.3 354.3,62.7 356.3,63.1 358.3,63.6 360.3,64.1 362.3,64.6 364.3,65.2 366.3,65.7 368.3,66.3 370.4,66.9 372.4,67.5 374.4,68.2 376.4,68.8 378.4,69.5 380.4,70.2 382.4,70.9 384.4,71.7 386.4,72.5 388.4,73.3 390.4,74.1 392.5,74.9 394.5,75.8 396.5,76.6 398.5,77.4 400.5,78.2 402.5,79.0 404.5,79.9 406.5,80.7 408.5,81.6 410.6,82.4 412.6,83.2 414.6,84.0 416.6,84.8 418.6,85.6 420.6,86.3 422.5,86.9 424.5,87.5 426.4,88.1 428.4,88.7 430.3,89.2 432.2,89.8 434.2,90.3 436.1,90.8 438.1,91.2 440.0,91.7 442.0,92.2 444.0,92.5 446.1,92.9 448.1,93.2 450.1,93.5 452.1,93.8 454.1,94.2 456.1,94.5 458.1,94.8 460.1,94.9 462.1,94.9 464.1,94.8 466.2,94.7 468.2,94.4 470.2,94.1 472.2,93.8 474.2,93.5 476.2,93.1 478.2,92.7 480.2,92.1 482.2,91.5 484.2,90.8 486.3,90.0 488.3,89.2 490.3,88.4 492.3,87.6 494.3,86.7 496.3,85.8 498.3,84.9 500.3,84.1 502.3,83.3 504.3,82.6 506.4,81.8 508.4,81.2 510.4,80.7 512.4,80.3 514.4,79.9 516.4,79.7 518.4,79.6 520.4,79.5 522.9,79.8 525.4,80.5 527.1,81.3 528.8,82.3 530.5,83.4 532.5,84.7 534.5,86.1 536.5,87.5 538.5,88.8 540.5,90.0 542.5,91.0 544.5,91.9 546.6,92.7 548.6,93.3 550.6,93.8 552.6,94.0 554.6,94.0 556.6,93.9 558.6,93.7 560.6,93.3 562.6,92.7 564.6,92.0 566.7,91.1 568.7,90.2 570.7,89.5 572.7,89.0 574.7,88.7 576.7,88.6 578.7,88.8 580.7,89.5 582.6,90.6 584.6,91.9 586.5,93.2 588.5,94.5 590.4,95.7 592.2,96.9 594.0,98.1 595.7,98.9 597.5,99.0 599.4,97.8 601.3,95.8 603.2,93.6 605.1,91.9 607.2,90.3 609.2,89.1 611.3,89.1 613.1,91.0 614.8,94.2 616.6,97.3 626.2,108.1 635.2,100.7 645.0,109.2 652.6,101.7 661.3,125.3 667.1,119.7 674.6,129.2 679.6,119.8 685.5,139.1 689.3,129.5 693.4,139.5 697.4,130.3 701.3,134.0 704.8,148.0 707.7,143.1 711.7,165.3 714.5,164.6 719.0,198.8 722.4,206.8 724.9,227.5 736.3,320.0 737.3,336.3 740.6,338.6 744.6,339.2 749.1,345.6 752.0,370.2 759.0,421.4 759.7,440.0 759.7,449.0"/>
<polyline class="c" stroke="#000080" points="112.4,91.3 114.5,90.2 116.5,89.0 118.6,87.8 120.7,86.6 122.7,85.4 124.8,84.3 126.8,83.1 128.9,82.0 131.0,80.9 133.0,79.9 135.1,79.0 137.0,78.2 139.0,77.4 140.9,76.6 142.9,75.9 144.8,75.2 146.7,74.5 148.7,73.8 150.6,73.2 152.5,72.6 154.5,72.0 156.4,71.5 158.4,70.9 160.3,70.4 162.2,69.8 164.2,69.4 166.1,68.9 168.0,68.5 170.0,68.0 171.9,67.6 173.8,67.3 175.7,66.9 177.7,66.5 179.6,66.2 181.5,65.9 183.5,65.5 185.4,65.2 187.3,64.9 189.3,64.6 191.2,64.4 193.1,64.1 195.1,63.8 197.0,63.6 198.9,63.4 200.8,63.2 202.8,63.0 204.7,62.8 206.6,62.6 208.6,62.4 210.5,62.2 212.4,62.0 214.4,61.8 216.3,61.7 218.2,61.5 220.2,61.4 222.1,61.2 224.0,61.1 225.9,61.0 227.9,60.8 229.8,60.7 231.7,60.6 233.7,60.4 235.6,60.3 237.5,60.2 239.5,60.0 241.4,59.9 243.4,59.7 245.3,59.6 247.2,59.4 249.2,59.3 251.1,59.1 253.0,59.0 255.0,58.8 256.9,58.7 258.9,58.6 260.8,58.4 262.7,58.3 264.7,58.2 266.6,58.1 268.5,57.9 270.5,57.8 272.4,57.7 274.3,57.5 276.2,57.4 278.2,57.3 280.1,57.2 282.0,57.1 284.0,57.1 285.9,57.0 287.9,57.0 289.9,57.1 291.9,57.2 294.0,57.3 296.0,57.4 298.0,57.5 300.0,57.6 302.0,57.6 304.0,57.6 306.0,57.6 308.0,57.6 310.1,57.6 312.1,57.6 314.1,57.6 316.1,57.7 318.1,57.7 320.1,57.9 322.1,58.0 324.1,58.2 326.1,58.3 328.1,58.5 330.1,58.7 332.2,59.0 334.2,59.2 336.2,59.5 338.2,59.8 340.2,60.1 342.2,60.4 344.2,60.8 346.2,61.1 348.2,61.5 350.2,61.9 352.3,62.3 354.3,62.7 356.3,63.1 358.3,63.6 360.3,64.1 362.3,64.6 364.3,65.2 366.3,65.7 368.3,66.3 370.4,66.9 372.4,67.5 374.4,68.2 376.4,68.8 378.4,69.5 380.4,70.2 382.4,70.9 384.4,71.7 386.4,72.5 388.4,73.3 390.4,74.1 392.5,74.9 394.5,75.7 396.5,76.6 398.5,77.4 400.5,78.2 402.5,79.0 404.5,79.9 406.5,80.7 408.5,81.5 410.6,82.4 412.6,83.2 414.6,84.0 416.6,84.8 418.6,85.5 420.6,86.2 422.5,86.9 424.5,87.5 426.4,88.1 428.4,88.6 430.3,89.2 432.2,89.7 434.2,90.2 436.1,90.7 438.1,91.1 440.0,91.6 442.0,92.1 444.0,92.4 446.1,92.7 448.1,93.0 450.1,93.3 452.1,93.7 454.1,94.0 456.1,94.4 458.1,94.6 460.1,94.8 462.1,94.8 464.1,94.7 466.2,94.5 468.2,94.2 470.2,94.0 472.2,93.7 474.2,93.3 476.2,92.9 478.2,92.5 480.2,92.0 482.2,91.3 484.2,90.6 486.3,89.9 488.3,89.1 490.3,88.3 492.3,87.4 494.3,86.5 496.3,85.6 498.3,84.7 500.3,83.9 502.3,83.1 504.3,82.3 506.4,81.6 508.4,80.9 510.4,80.4 512.4,80.0 514.4,79.6 516.4,79.4 518.4,79.2 520.4,79.1 522.9,79.3 525.4,80.0 527.1,80.8 528.8,81.8 530.5,82.9 532.5,84.3 534.5,85.7 536.5,87.1 538.5,88.4 540.5,89.5 542.5,90.5 544.5,91.4 546.6,92.2 548.6,92.8 550.6,93.3 552.6,93.5 554.6,93.5 556.6,93.4 558.6,93.1 560.6,92.8 562.6,92.2 564.6,91.3 566.7,90.4 568.7,89.5 570.7,88.8 572.7,88.3 574.7,88.0 576.7,87.9 578.7,88.1 580.7,88.8 582.6,89.9 584.6,91.2 586.5,92.5 588.5,93.8 590.4,95.0 592.2,96.2 594.0,97.4 595.7,98.3 597.5,98.4 599.4,97.3 601.3,95.2 603.2,93.0 605.1,91.1 607.1,89.6 609.2,88.4 611.2,88.5 613.0,90.3 614.7,93.4 616.5,96.5 626.2,107.2 635.2,99.7 645.0,108.1 652.6,100.6 661.1,124.1 667.0,118.2 674.5,127.5 679.5,117.9 685.4,137.0 689.2,127.3 693.3,137.0 697.3,127.9 701.2,131.3 704.8,145.3 707.7,140.4 711.7,162.6 714.5,161.6 719.0,196.2 722.4,203.7 725.1,226.3 736.6,320.0 737.4,331.6 740.6,333.6 744.6,333.8 749.2,340.5 751.9,366.1 759.0,421.4 759.7,440.0 759.7,449.0"/>
<polyline class="c" stroke="#800080" points="112.4,91.3 114.5,90.2 116.5,89.0 118.6,87.8 120.7,86.6 122.7,85.4 124.8,84.3 126.8,83.1 128.9,82.0 131.0,81.0 133.0,79.9 135.1,79.0 137.0,78.2 139.0,77.4 140.9,76.6 142.9,75.8 144.8,75.1 146.7,74.4 148.7,73.8 150.6,73.1 152.5,72.5 154.5,71.9 156.4,71.3 158.4,70.8 160.3,70.2 162.2,69.7 164.2,69.2 166.1,68.7 168.0,68.2 170.0,67.7 171.9,67.3 173.8,66.9 175.7,66.5 177.7,66.1 179.6,65.8 181.5,65.4 183.5,65.0 185.4,64.7 187.3,64.4 189.3,64.1 191.2,63.8 193.1,63.5 195.1,63.2 197.0,63.0 198.9,62.7 200.8,62.5 202.8,62.2 204.7,62.0 206.6,61.8 208.6,61.6 210.5,61.4 212.4,61.2 214.4,61.0 216.3,60.9 218.2,60.7 220.2,60.5 222.1,60.4 224.0,60.3 225.9,60.1 227.9,60.0 229.8,59.8 231.7,59.7 233.7,59.6 235.6,59.4 237.5,59.2 239.5,59.1 241.4,58.9 243.4,58.7 245.3,58.6 247.2,58.4 249.2,58.2 251.1,58.1 253.0,57.9 255.0,57.7 256.9,57.6 258.9,57.4 260.8,57.3 262.7,57.1 264.7,57.0 266.6,56.9 268.5,56.7 270.5,56.6 272.4,56.4 274.3,56.3 276.2,56.2 278.2,56.1 280.1,56.0 282.0,55.9 284.0,55.8 285.9,55.8 287.9,55.8 289.9,55.8 291.9,55.9 294.0,56.0 296.0,56.2 298.0,56.3 300.0,56.4 302.0,56.4 304.0,56.5 306.0,56.5 308.0,56.5 310.1,56.5 312.1,56.6 314.1,56.6 316.1,56.7 318.1,56.8 320.1,56.9 322.1,57.1 324.1,57.2 326.1,57.4 328.1,57.7 330.1,57.9 332.2,58.2 334.2,58.4 336.2,58.7 338.2,59.0 340.2,59.4 342.2,59.7 344.2,60.1 346.2,60.4 348.2,60.8 350.2,61.2 352.3,61.6 354.3,62.1 356.3,62.5 358.3,63.0 360.3,63.5 362.3,64.1 364.3,64.6 366.3,65.2 368.3,65.8 370.4,66.5 372.4,67.1 374.4,67.8 376.4,68.5 378.4,69.2 380.4,69.9 382.4,70.7 384.4,71.4 386.4,72.3 388.4,73.1 390.4,73.9 392.5,74.8 394.5,75.7 396.5,76.5 398.5,77.4 400.5,78.2 402.5,79.0 404.5,79.9 406.5,80.7 408.5,81.5 410.6,82.4 412.6,83.2 414.6,84.0 416.6,84.8 418.6,85.5 420.6,86.2 422.5,86.9 424.5,87.5 426.4,88.0 428.4,88.6 430.3,89.1 432.2,89.6 434.2,90.1 436.1,90.6 438.1,91.1 440.0,91.5 442.0,92.0 444.0,92.3 446.1,92.7 448.1,93.0 450.1,93.3 452.1,93.6 454.1,94.0 456.1,94.3 458.1,94.5 460.1,94.7 462.1,94.7 464.1,94.6 466.2,94.4 468.2,94.1 470.2,93.9 472.2,93.6 474.2,93.2 476.2,92.9 478.2,92.4 480.2,91.9 482.2,91.3 484.2,90.5 486.3,89.8 488.3,89.0 490.3,88.2 492.3,87.3 494.3,86.4 496.3,85.5 498.3,84.6 500.3,83.8 502.3,83.0 504.3,82.2 506.4,81.4 508.4,80.8 510.4,80.2 512.4,79.8 514.4,79.4 516.4,79.2 518.4,79.0 520.4,78.9 522.9,79.0 525.4,79.7 527.1,80.5 528.8,81.6 530.5,82.7 532.5,84.0 534.5,85.4 536.5,86.8 538.5,88.1 540.5,89.3 542.5,90.3 544.5,91.2 546.6,92.0 548.6,92.6 550.6,93.0 552.6,93.2 554.6,93.3 556.6,93.1 558.6,92.8 560.6,92.4 562.6,91.8 564.6,91.0 566.7,90.1 568.7,89.2 570.7,88.4 572.7,87.9 574.7,87.5 576.7,87.4 578.7,87.7 580.7,88.4 582.6,89.5 584.6,90.7 586.5,92.0 588.5,93.3 590.4,94.5 592.2,95.8 594.0,97.1 595.7,98.0 597.5,98.1 599.4,97.0 601.3,94.9 603.2,92.6 605.1,90.7 607.1,89.2 609.1,88.0 611.1,88.1 612.9,89.9 614.7,92.9 616.4,96.0 626.2,106.6 635.2,99.1 645.0,107.4 652.6,99.9 661.0,123.3 666.9,117.3 674.4,126.5 679.5,116.8 685.4,135.8 689.2,126.1 693.3,135.6 697.3,126.5 701.2,129.8 704.8,143.8 707.7,138.9 711.7,161.0 714.5,159.9 719.0,194.8 722.4,201.9 725.1,225.5 736.8,320.0 737.4,332.9 740.6,335.2 744.3,335.2 748.9,341.7 751.6,366.1 759.0,421.4 759.7,440.0 759.7,449.0"/>
<polyline class="c" stroke="#800000" points="112.4,91.3 114.5,90.2 116.5,89.0 118.6,87.8 120.7,86.6 122.7,85.4 124.8,84.3 126.8,83.1 128.9,82.0 131.0,81.0 133.0,79.9 135.1,79.0 137.0,78.2 139.0,77.4 140.9,76.6 142.9,75.8 144.8,75.1 146.7,74.4 148.7,73.8 150.6,73.1 152.5,72.5 154.5,71.9 156.4,71.3 158.4,70.8 160.3,70.2 162.2,69.7 164.2,69.2 166.1,68.7 168.0,68.2 170.0,67.7 171.9,67.3 173.8,66.9 175.7,66.5 177.7,66.1 179.6,65.8 181.5,65.4 183.5,65.0 185.4,64.7 187.3,64.4 189.3,64.1 191.2,63.8 193.1,63.5 195.1,63.2 197.0,63.0 198.9,62.7 200.8,62.5 202.8,62.2 204.7,62.0 206.6,61.8 208.6,61.6 210.5,61.4 212.4,61.2 214.4,61.0 216.3,60.8 218.2,60.7 220.2,60.5 222.1,60.4 224.0,60.2 225.9,60.1 227.9,60.0 229.8,59.8 231.7,59.7 233.7,59.5 235.6,59.4 237.5,59.3 239.5,59.1 241.4,59.0 243.4,58.8 245.3,58.7 247.2,58.5 249.2,58.4 251.1,58.2 253.0,58.1 255.0,58.0 256.9,57.8 258.9,57.7 260.8,57.6 262.7,57.5 264.7,57.4 266.6,57.2 268.5,57.1 270.5,57.0 272.4,56.9 274.3,56.8 276.2,56.7 278.2,56.6 280.1,56.5 282.0,56.5 284.0,56.4 285.9,56.4 287.9,56.4 289.9,56.5 291.9,56.6 294.0,56.7 296.0,56.9 298.0,57.0 300.0,57.1 302.0,57.2 304.0,57.2 306.0,57.2 308.0,57.3 310.1,57.3 312.1,57.3 314.1,57.4 316.1,57.5 318.1,57.6 320.1,57.7 322.1,57.9 324.1,58.0 326.1,58.2 328.1,58.5 330.1,58.7 332.2,58.9 334.2,59.2 336.2,59.5 338.2,59.8 340.2,60.1 342.2,60.4 344.2,60.8 346.2,61.1 348.2,61.5 350.2,61.9 352.3,62.3 354.3,62.7 356.3,63.1 358.3,63.6 360.3,64.1 362.3,64.6 364.3,65.2 366.3,65.7 368.3,66.3 370.4,66.9 372.4,67.5 374.4,68.2 376.4,68.8 378.4,69.5 380.4,70.2 382.4,70.9 384.4,71.7 386.4,72.5 388.4,73.3 390.4,74.1 392.5,74.9 394.5,75.7 396.5,76.6 398.5,77.4 400.5,78.2 402.5,79.0 404.5,79.8 406.5,80.7 408.5,81.5 410.6,82.4 412.6,83.2 414.6,84.0 416.6,84.8 418.6,85.5 420.6,86.2 422.5,86.8 424.5,87.4 426.4,88.0 428.4,88.6 430.3,89.1 432.2,89.6 434.2,90.1 436.1,90.6 438.1,91.0 440.0,91.5 442.0,91.9 444.0,92.3 446.1,92.6 448.1,92.9 450.1,93.2 452.1,93.5 454.1,93.9 456.1,94.2 458.1,94.5 460.1,94.6 462.1,94.6 464.1,94.5 466.2,94.3 468.2,94.1 470.2,93.8 472.2,93.5 474.2,93.2 476.2,92.8 478.2,92.3 480.2,91.8 482.2,91.2 484.2,90.5 486.3,89.7 488.3,88.9 490.3,88.1 492.3,87.3 494.3,86.4 496.3,85.4 498.3,84.5 500.3,83.7 502.3,82.9 504.3,82.1 506.4,81.3 508.4,80.7 510.4,80.1 512.4,79.6 514.4,79.3 516.4,79.0 518.4,78.8 520.4,78.7 522.9,78.8 525.4,79.5 527.1,80.3 528.8,81.4 530.5,82.5 532.5,83.8 534.5,85.2 536.5,86.6 538.5,88.0 540.5,89.1 542.5,90.1 544.5,91.0 546.6,91.8 548.6,92.4 550.6,92.8 552.6,93.0 554.6,93.0 556.6,92.9 558.6,92.6 560.6,92.2 562.6,91.6 564.6,90.7 566.7,89.8 568.7,88.9 570.7,88.1 572.7,87.6 574.7,87.2 576.7,87.1 578.7,87.3 580.7,88.1 582.6,89.2 584.6,90.4 586.5,91.7 588.5,93.0 590.4,94.2 592.2,95.4 594.0,96.8 595.7,97.8 597.5,97.9 599.4,96.7 601.3,94.6 603.2,92.3 605.1,90.4 607.1,88.9 609.1,87.7 611.1,87.8 612.9,89.6 614.6,92.6 616.4,95.6 626.2,106.2 635.2,98.6 645.0,106.9 652.6,99.4 660.9,122.8 666.9,116.7 674.4,125.8 679.5,116.0 685.4,134.9 689.2,125.2 693.3,134.6 697.3,125.5 701.2,128.6 704.8,142.6 707.7,137.7 711.7,159.8 714.5,158.6 719.0,193.7 722.4,200.5 725.2,225.0 736.9,320.0 737.4,332.9 740.6,335.2 744.3,335.2 748.9,341.7 751.6,366.1 759.0,421.4 759.7,440.0 759.7,449.0"/>
</g>
<polyline points="535.1,226.1 537.6,223.2 540.1,220.4 543.0,217.0 546.0,213.6 548.9,210.4 551.8,207.3 554.8,204.4 557.7,201.6 560.6,198.9 563.6,196.4 566.5,194.0 569.8,191.4 573.2,188.9 576.5,186.5 579.2,184.5 581.9,182.6 584.5,180.7 587.2,178.7 590.0,176.6 592.9,174.5 595.7,172.3 598.5,170.2 601.2,168.2 603.9,166.2 606.5,164.2 609.2,162.2 611.9,160.1 614.7,157.9 617.4,155.7 620.5,153.2 623.6,150.7 626.7,148.1 629.8,145.6 632.9,143.0 636.0,140.5 638.9,138.1 641.8,135.8 644.7,133.5 647.6,131.1 650.5,128.8 653.4,126.4 656.3,124.0 659.7,121.2 663.0,118.2 666.4,115.3 669.8,112.4 672.7,109.9 675.6,107.4 678.5,105.0 681.4,102.5 684.3,100.0" fill="none" stroke="#000" stroke-width="1.5" stroke-dasharray="7.5 5"/>
<path d="M694.3,90.2 L681.9,97.5 L686.4,102.8 Z" fill="#000" stroke="#000" stroke-width="0.6" stroke-linejoin="round"/>
<path class="ax" d="M112.1,33.5 h-10.6 M112.1,91.5 h-10.6 M112.1,149.6 h-10.6 M112.1,207.6 h-10.6 M112.1,265.6 h-10.6 M112.1,323.7 h-10.6 M112.1,381.7 h-10.6 M112.1,439.7 h-10.6 M112.1,497.8 h-10.6 M112.1,555.8 h-10.6 M112.1,62.5 h-6 M112.1,120.5 h-6 M112.1,178.6 h-6 M112.1,236.6 h-6 M112.1,294.6 h-6 M112.1,352.7 h-6 M112.1,410.7 h-6 M112.1,468.8 h-6 M112.1,526.8 h-6 M208.2,555.8 v10.6 M392.0,555.8 v10.6 M575.9,555.8 v10.6 M759.7,555.8 v10.6 M112.1,555.8 v5.6 M135.1,555.8 v5.6 M152.9,555.8 v5.6 M167.4,555.8 v5.6 M179.7,555.8 v5.6 M190.4,555.8 v5.6 M199.8,555.8 v5.6 M263.6,555.8 v5.6 M295.9,555.8 v5.6 M318.9,555.8 v5.6 M336.7,555.8 v5.6 M351.3,555.8 v5.6 M363.6,555.8 v5.6 M374.2,555.8 v5.6 M383.6,555.8 v5.6 M447.4,555.8 v5.6 M479.8,555.8 v5.6 M502.7,555.8 v5.6 M520.5,555.8 v5.6 M535.1,555.8 v5.6 M547.4,555.8 v5.6 M558.1,555.8 v5.6 M567.5,555.8 v5.6 M631.2,555.8 v5.6 M663.6,555.8 v5.6 M686.5,555.8 v5.6 M704.4,555.8 v5.6 M718.9,555.8 v5.6 M731.2,555.8 v5.6 M741.9,555.8 v5.6 M751.3,555.8 v5.6"/>
<text class="t" x="94.8" y="43.3" text-anchor="end">5</text>
<text class="t" x="94.8" y="101.3" text-anchor="end">0</text>
<text class="t" x="94.8" y="159.4" text-anchor="end">-5</text>
<text class="t" x="94.8" y="217.4" text-anchor="end">-10</text>
<text class="t" x="94.8" y="275.4" text-anchor="end">-15</text>
<text class="t" x="94.8" y="333.5" text-anchor="end">-20</text>
<text class="t" x="94.8" y="391.5" text-anchor="end">-25</text>
<text class="t" x="94.8" y="449.5" text-anchor="end">-30</text>
<text class="t" x="94.8" y="507.6" text-anchor="end">-35</text>
<text class="t" x="94.8" y="565.6" text-anchor="end">-40</text>
<text class="t" x="209.1" y="598.8" text-anchor="middle">1</text>
<text class="t" x="392.9" y="598.8" text-anchor="middle">10</text>
<text class="t" x="576.8" y="598.8" text-anchor="middle">100</text>
<text class="t" x="760.6" y="598.8" text-anchor="middle">1000</text>
<text class="ttl" x="436.8" y="646.8" text-anchor="middle">Frequency (MHz)</text>
<text class="ttl" transform="translate(35.2,292.3) rotate(-90)" text-anchor="middle" style="font-size:38.8px">Normalized Response (dB)</text>
<text x="0.4" y="27.5" font-size="33">(a)</text>
<text class="t" x="122.2" y="161.3">-3 dB bandwidth</text>
<text class="t" x="122.2" y="242.3">-10 dB bandwidth</text>
<text class="t" x="122.2" y="356.7">-20 dB bandwidth</text>
<text class="t" x="668.6" y="76">-10 V</text>
<text class="t" x="498.6" y="262.7">0 V</text>
</g>
<g id="panel-b">
<path class="ax axb" d="M115.5,680.3 H756.8 V1198.8 H115.5 Z"/>
<path class="ax axb" d="M115.5,1161.2 h-10.8 M115.5,1086.1 h-10.8 M115.5,1010.9 h-10.8 M115.5,935.8 h-10.8 M115.5,860.6 h-10.8 M115.5,785.5 h-10.8 M115.5,710.4 h-10.8 M115.5,1198.8 h-5.6 M115.5,1123.7 h-5.6 M115.5,1048.5 h-5.6 M115.5,973.4 h-5.6 M115.5,898.2 h-5.6 M115.5,823.1 h-5.6 M115.5,747.9 h-5.6 M144.7,1198.8 v10.4 M202.9,1198.8 v10.4 M261.2,1198.8 v10.4 M319.5,1198.8 v10.4 M377.8,1198.8 v10.4 M436.1,1198.8 v10.4 M494.4,1198.8 v10.4 M552.8,1198.8 v10.4 M611.0,1198.8 v10.4 M669.3,1198.8 v10.4 M727.6,1198.8 v10.4 M115.5,1198.8 v5.2 M173.8,1198.8 v5.2 M232.1,1198.8 v5.2 M290.4,1198.8 v5.2 M348.7,1198.8 v5.2 M407.0,1198.8 v5.2 M465.3,1198.8 v5.2 M523.6,1198.8 v5.2 M581.9,1198.8 v5.2 M640.2,1198.8 v5.2 M698.5,1198.8 v5.2 M756.8,1198.8 v5.2"/>
<text class="t" x="99.1" y="1171.2" text-anchor="end">50</text>
<text class="t" x="99.1" y="1096.1" text-anchor="end">100</text>
<text class="t" x="99.1" y="1020.9" text-anchor="end">150</text>
<text class="t" x="99.1" y="945.8" text-anchor="end">200</text>
<text class="t" x="99.1" y="870.6" text-anchor="end">250</text>
<text class="t" x="99.1" y="795.5" text-anchor="end">300</text>
<text class="t" x="99.1" y="720.4" text-anchor="end">350</text>
<text class="t" x="144.2" y="1240.3" text-anchor="middle">-10</text>
<text class="t" x="202.5" y="1240.3" text-anchor="middle">-9</text>
<text class="t" x="260.9" y="1240.3" text-anchor="middle">-8</text>
<text class="t" x="319.1" y="1240.3" text-anchor="middle">-7</text>
<text class="t" x="377.4" y="1240.3" text-anchor="middle">-6</text>
<text class="t" x="435.8" y="1240.3" text-anchor="middle">-5</text>
<text class="t" x="494.1" y="1240.3" text-anchor="middle">-4</text>
<text class="t" x="552.4" y="1240.3" text-anchor="middle">-3</text>
<text class="t" x="610.6" y="1240.3" text-anchor="middle">-2</text>
<text class="t" x="668.9" y="1240.3" text-anchor="middle">-1</text>
<text class="t" x="727.2" y="1240.3" text-anchor="middle">0</text>
<text class="ttl" x="437.2" y="1288.4" text-anchor="middle" style="font-size:38.4px">Voltage (V)</text>
<text class="ttl" transform="translate(31.2,940) rotate(-90)" text-anchor="middle" style="font-size:37.8px">-3 dB Bandwidth (MHz)</text>
<text x="2.8" y="664.8" font-size="33">(b)</text>
<path d="M167.2,713.9 L179.6,713.9 M225.4,714.0 L238.1,714.0 M282.6,721.6 L297.6,726.8 M335.0,750.9 L361.6,778.9 M399.9,800.0 L413.4,802.7 M450.8,824.5 L478.9,857.1 M505.3,894.2 L540.5,955.3 M564.5,994.3 L597.9,1045.4 M625.5,1081.8 L653.6,1114.1 M689.7,1140.5 L706.5,1147.8" stroke="#ff0000" stroke-width="2" fill="none"/>
<circle cx="144.4" cy="714.3" r="16.9" fill="url(#ball)"/>
<circle cx="202.6" cy="714.3" r="16.9" fill="url(#ball)"/>
<circle cx="261.1" cy="714.5" r="16.9" fill="url(#ball)"/>
<circle cx="319.3" cy="734.7" r="16.9" fill="url(#ball)"/>
<circle cx="377.5" cy="795.9" r="16.9" fill="url(#ball)"/>
<circle cx="436.0" cy="807.6" r="16.9" fill="url(#ball)"/>
<circle cx="493.9" cy="874.8" r="16.9" fill="url(#ball)"/>
<circle cx="552.1" cy="975.5" r="16.9" fill="url(#ball)"/>
<circle cx="610.5" cy="1065.0" r="16.9" fill="url(#ball)"/>
<circle cx="668.8" cy="1131.7" r="16.9" fill="url(#ball)"/>
<circle cx="727.6" cy="1157.4" r="16.9" fill="url(#ball)"/>
</g>
</svg></body></html>
